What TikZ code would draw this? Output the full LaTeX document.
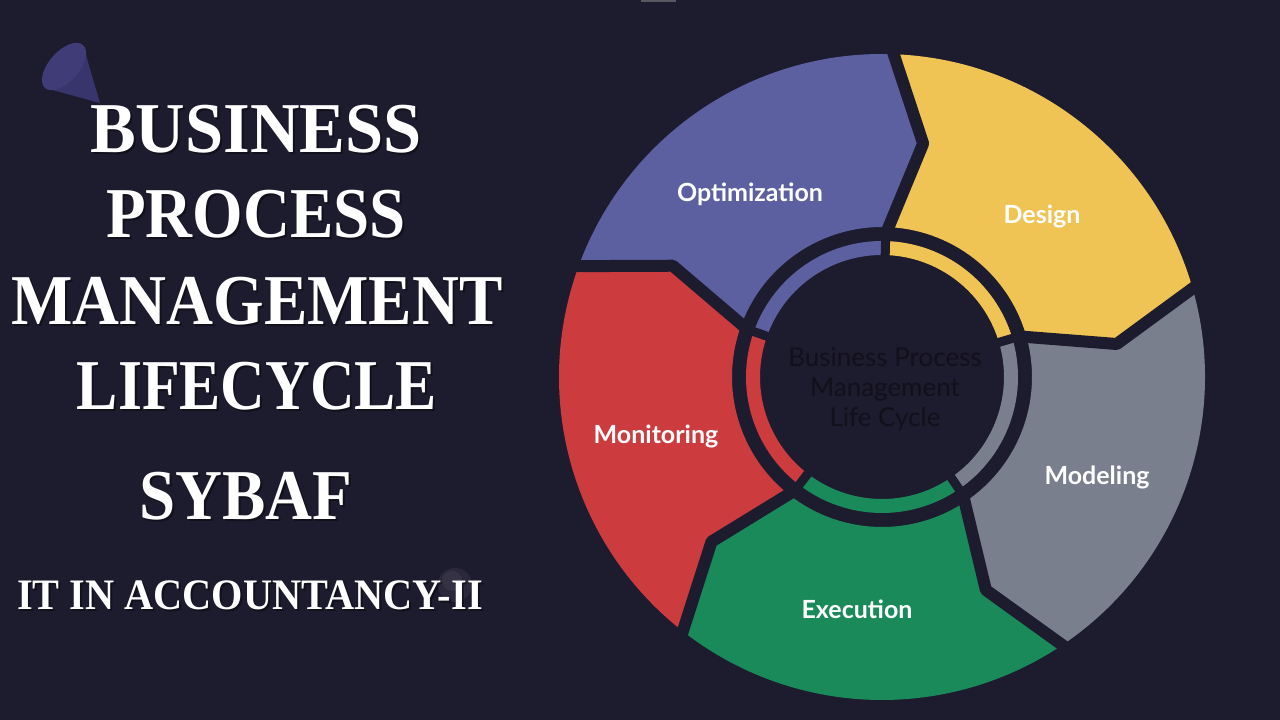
\documentclass[tikz,border=0pt]{standalone}
\usepackage{fontspec}
\setmainfont{Liberation Serif}
\newfontfamily\labfont{Lato}
\definecolor{bg}{RGB}{29,27,46}
\definecolor{optc}{RGB}{92,95,160}
\definecolor{desc}{RGB}{240,196,84}
\definecolor{modc}{RGB}{121,127,141}
\definecolor{exec}{RGB}{26,138,90}
\definecolor{monc}{RGB}{204,60,63}
\definecolor{ctext}{RGB}{18,16,26}
\definecolor{conec}{RGB}{56,52,108}
\definecolor{conel}{RGB}{64,60,120}
\def\cx{882}
\def\cy{343}
\newcommand{\ringseg}[3]{%
  \fill[#3] ([shift={(\cx,\cy)}]#1:323) arc[start angle=#1, end angle=#2, radius=323]
    -- ([shift={(\cx,\cy)}]#2-8.5:237) -- ([shift={(\cx,\cy)}]#2:150)
    arc[start angle=#2, end angle=#1, radius=150]
    -- ([shift={(\cx,\cy)}]#1-8.5:237) -- cycle;
  \draw[#3, line width=14] ([shift={(\cx,\cy)}]#1:129) arc[start angle=#1, end angle=#2, radius=129];}
\newcommand{\ringgap}[1]{%
  \draw[bg, line width=12, line join=round, line cap=butt] ([shift={(\cx,\cy)}]#1:332)
    -- ([shift={(\cx,\cy)}]#1-8.5:237) -- ([shift={(\cx,\cy)}]#1:143);
  \draw[bg, line width=9] ([shift={(\cx,\cy)}]#1:145) -- ([shift={(\cx,\cy)}]#1:115);}
\tikzset{
  title/.style={text=white, anchor=base, inner sep=0pt, font=\bfseries\fontsize{65}{65}\selectfont},
  titleshadow/.style={title, text=black, opacity=0.4},
  sub/.style={text=white, anchor=base, inner sep=0pt, font=\bfseries\fontsize{39.5}{40}\selectfont},
  subshadow/.style={sub, text=black, opacity=0.4},
  seglabel/.style={text=white, anchor=base, inner sep=0pt, font=\labfont\bfseries\fontsize{25}{25}\selectfont},
  centertext/.style={text=ctext, anchor=base, inner sep=0pt, font=\labfont\fontsize{26}{26}\selectfont}
}
\begin{document}
\begin{tikzpicture}[x=1pt,y=1pt]
\useasboundingbox (0,0) rectangle (1280,720);
\fill[bg] (0,0) rectangle (1280,720);
% small bar at top
\fill[gray!60!bg] (641,718) rectangle (676,720);
% cone decoration
\fill[conec] (100,617) -- (83,675) -- (45,632) -- cycle;
\fill[conel] (64,653.5) ellipse[x radius=28.7, y radius=15, rotate=48.5];
% faint glowing sphere
\fill[white, opacity=0.06] (455,135) circle[radius=17];
\fill[white, opacity=0.05] (452,139) circle[radius=10];
% ring segments
\ringseg{160.5}{88.5}{optc}
\ringseg{88.5}{16.5}{desc}
\ringseg{16.5}{-55.5}{modc}
\ringseg{-55.5}{-127.5}{exec}
\ringseg{-127.5}{-199.5}{monc}
\ringgap{88.5}
\ringgap{16.5}
\ringgap{-55.5}
\ringgap{-127.5}
\ringgap{160.5}
% segment labels
\node[seglabel] (lopt) at (750,518) {Optimization};
\node[seglabel] (ldes) at (1042,496) {Design};
\node[seglabel] (lmod) at (1097,235) {Modeling};
\node[seglabel] (lexe) at (857,101) {Execution};
\node[seglabel] (lmon) at (656,276) {Monitoring};
% center text
\node[centertext] (c1) at (885,353) {Business Process};
\node[centertext] (c2) at (885,323) {Management};
\node[centertext] (c3) at (885,293) {Life Cycle};
% title shadows
\node[titleshadow] (s1) at (258,565) {\scalebox{1.055}[1.1]{BUSINESS}};
\node[titleshadow] (s2) at (258,480) {\scalebox{1}[1.1]{PROCESS}};
\node[titleshadow] (s3) at (259,393) {\scalebox{1}[1.1]{MANAGEMENT}};
\node[titleshadow] (s4) at (259,308) {\scalebox{0.95}[1.1]{LIFECYCLE}};
\node[titleshadow] (s5) at (248,198) {\scalebox{1}[1.1]{SYBAF}};
\node[subshadow] (s6) at (252,108) {\scalebox{1.02}[1.1]{IT IN ACCOUNTANCY-II}};
% title
\node[title] (t1) at (256,567) {\scalebox{1.055}[1.1]{BUSINESS}};
\node[title] (t2) at (256,482) {\scalebox{1}[1.1]{PROCESS}};
\node[title] (t3) at (257,395) {\scalebox{1}[1.1]{MANAGEMENT}};
\node[title] (t4) at (257,310) {\scalebox{0.95}[1.1]{LIFECYCLE}};
\node[title] (t5) at (246,200) {\scalebox{1}[1.1]{SYBAF}};
\node[sub] (t6) at (250,110) {\scalebox{1.02}[1.1]{IT IN ACCOUNTANCY-II}};
\end{tikzpicture}
\end{document}
